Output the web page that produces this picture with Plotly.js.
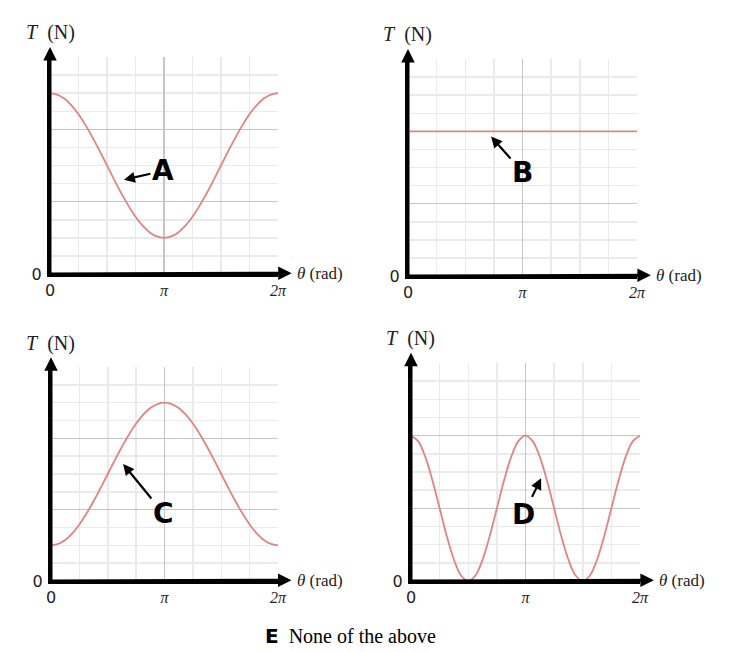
<!DOCTYPE html>
<html>
<head>
<meta charset="utf-8">
<script src="https://cdn.plot.ly/plotly-3.0.1.min.js"></script>
<style>html,body{margin:0;padding:0;background:#fff;}#chart{width:744px;height:652px;}</style>
</head>
<body>
<div id="chart"></div>
<script>
// theta in units of pi (samples every pi/16)
const thetaOverPi = [0, 0.0625, 0.125, 0.1875, 0.25, 0.3125, 0.375, 0.4375, 0.5, 0.5625, 0.625, 0.6875, 0.75, 0.8125, 0.875, 0.9375, 1,
  1.0625, 1.125, 1.1875, 1.25, 1.3125, 1.375, 1.4375, 1.5, 1.5625, 1.625, 1.6875, 1.75, 1.8125, 1.875, 1.9375, 2];
// Tension T (N)
const seriesA = [10, 9.92, 9.7, 9.33, 8.83, 8.22, 7.53, 6.78, 6, 5.22, 4.47, 3.78, 3.17, 2.67, 2.3, 2.08, 2,
  2.08, 2.3, 2.67, 3.17, 3.78, 4.47, 5.22, 6, 6.78, 7.53, 8.22, 8.83, 9.33, 9.7, 9.92, 10];
const seriesB = [8, 8, 8, 8, 8, 8, 8, 8, 8, 8, 8, 8, 8, 8, 8, 8, 8,
  8, 8, 8, 8, 8, 8, 8, 8, 8, 8, 8, 8, 8, 8, 8, 8];
const seriesC = [2, 2.08, 2.3, 2.67, 3.17, 3.78, 4.47, 5.22, 6, 6.78, 7.53, 8.22, 8.83, 9.33, 9.7, 9.92, 10,
  9.92, 9.7, 9.33, 8.83, 8.22, 7.53, 6.78, 6, 5.22, 4.47, 3.78, 3.17, 2.67, 2.3, 2.08, 2];
const seriesD = [8, 7.7, 6.83, 5.53, 4, 2.47, 1.17, 0.3, 0, 0.3, 1.17, 2.47, 4, 5.53, 6.83, 7.7, 8,
  7.7, 6.83, 5.53, 4, 2.47, 1.17, 0.3, 0, 0.3, 1.17, 2.47, 4, 5.53, 6.83, 7.7, 8];
const panelLabels = ['A', 'B', 'C', 'D'];
const xTickVals = [0, 1, 2];
const xTickText = ['0',
  '<i><span style="font-family:Liberation Serif">π</span></i>',
  '<i><span style="font-family:Liberation Serif">2π</span></i>'];
const yTickVals = [0, 4, 8, 12];
const yTickText = ['0', '', '', ''];
const yTitle = '<i>T</i>  (N)';
const xTitle = '<i>θ</i> (rad)';
const footnote = '<b><span style="font-family:DejaVu Sans">E</span></b>  None of the above';

const allSeries = [seriesA, seriesB, seriesC, seriesD];
const lineColor = '#e08484';

// panel domains (pixels)
const W = 744, H = 652;
const boxes = [
  {l: 50, r: 278, t: 57, b: 274},
  {l: 408, r: 637, t: 59, b: 276},
  {l: 51, r: 278, t: 367, b: 581},
  {l: 411, r: 640, t: 363, b: 581}
];
// label placement (data coords): text centre and arrow tip
const labelPos = [
  {ax: 0.99, ay: 5.7, x: 0.64, y: 5.2},
  {ax: 1.0, ay: 5.75, x: 0.72, y: 7.75},
  {ax: 0.99, ay: 3.8, x: 0.63, y: 6.6},
  {ax: 0.98, ay: 3.64, x: 1.14, y: 5.7}
];

const data = [];
const layout = {
  width: W, height: H,
  margin: {l: 0, r: 0, t: 0, b: 0},
  paper_bgcolor: '#fff', plot_bgcolor: '#fff',
  showlegend: false,
  annotations: []
};

allSeries.forEach((ys, i) => {
  const n = i === 0 ? '' : String(i + 1);
  const xa = 'x' + n, ya = 'y' + n;
  data.push({
    x: thetaOverPi, y: ys, xaxis: xa, yaxis: ya,
    type: 'scatter', mode: 'lines',
    line: {color: lineColor, width: 1.8, shape: 'spline', smoothing: 1},
    hoverinfo: 'skip'
  });
  const b = boxes[i];
  layout['xaxis' + n] = {
    domain: [b.l / W, b.r / W], anchor: ya,
    range: [0, 2], tickmode: 'array', tickvals: xTickVals, ticktext: xTickText,
    showgrid: true, gridcolor: '#c6c6c6', gridwidth: 1.2, zeroline: false,
    showline: true, linewidth: 3, linecolor: '#000',
    ticks: '', ticklabelstandoff: 0,
    tickfont: {family: 'DejaVu Sans', size: 16, color: '#222'},
    minor: {tickmode: 'linear', tick0: 0, dtick: 0.25, showgrid: true, gridcolor: '#eaeaea', gridwidth: 1.5, ticks: ''},
    fixedrange: true
  };
  layout['yaxis' + n] = {
    domain: [1 - b.b / H, 1 - b.t / H], anchor: xa,
    range: [0, 12], tickmode: 'array', tickvals: yTickVals, ticktext: yTickText,
    showgrid: true, gridcolor: '#c6c6c6', gridwidth: 1.2, zeroline: false,
    showline: true, linewidth: 3, linecolor: '#000',
    ticks: '', ticklabelstandoff: 2,
    tickfont: {family: 'DejaVu Sans', size: 16, color: '#222'},
    minor: {tickmode: 'linear', tick0: 0, dtick: 1, showgrid: true, gridcolor: '#eaeaea', gridwidth: 1.5, ticks: ''},
    fixedrange: true
  };
  // y-axis arrow ending under its title "T (N)"
  layout.annotations.push({
    xref: xa, yref: ya, axref: xa, ayref: ya,
    x: 0, y: 0, ax: 0, ay: 13.33, text: yTitle, showarrow: true,
    arrowside: 'start', startarrowhead: 2, startarrowsize: 0.9, arrowwidth: 3, arrowcolor: '#000',
    standoff: 0, startstandoff: 1,
    font: {family: 'Liberation Serif', size: 20, color: '#222'}
  });
  // x-axis arrow ending before its title "θ (rad)"
  layout.annotations.push({
    xref: xa, yref: ya, axref: xa, ayref: ya,
    x: 0, y: 0, ax: 2.37, ay: 0.05, text: xTitle, showarrow: true,
    arrowside: 'start', startarrowhead: 2, startarrowsize: 0.9, arrowwidth: 3, arrowcolor: '#000',
    standoff: 0, startstandoff: 4,
    font: {family: 'Liberation Serif', size: 17, color: '#222'}
  });
  // curve label with arrow
  const p = labelPos[i];
  layout.annotations.push({
    xref: xa, yref: ya, axref: xa, ayref: ya,
    x: p.x, y: p.y, ax: p.ax, ay: p.ay,
    text: '<b>' + panelLabels[i] + '</b>', showarrow: true,
    arrowhead: 2, arrowsize: 1, arrowwidth: 2.2, arrowcolor: '#000', standoff: 1,
    font: {family: 'DejaVu Sans', size: 28, color: '#000'}
  });
});

layout.annotations.push({
  xref: 'paper', yref: 'paper', x: 263 / W, y: 1 - 636 / H,
  xanchor: 'left', yanchor: 'middle', showarrow: false,
  text: footnote, font: {family: 'Liberation Serif', size: 20, color: '#000'}
});

Plotly.newPlot('chart', data, layout, {staticPlot: true, displayModeBar: false});
</script>
</body>
</html>
